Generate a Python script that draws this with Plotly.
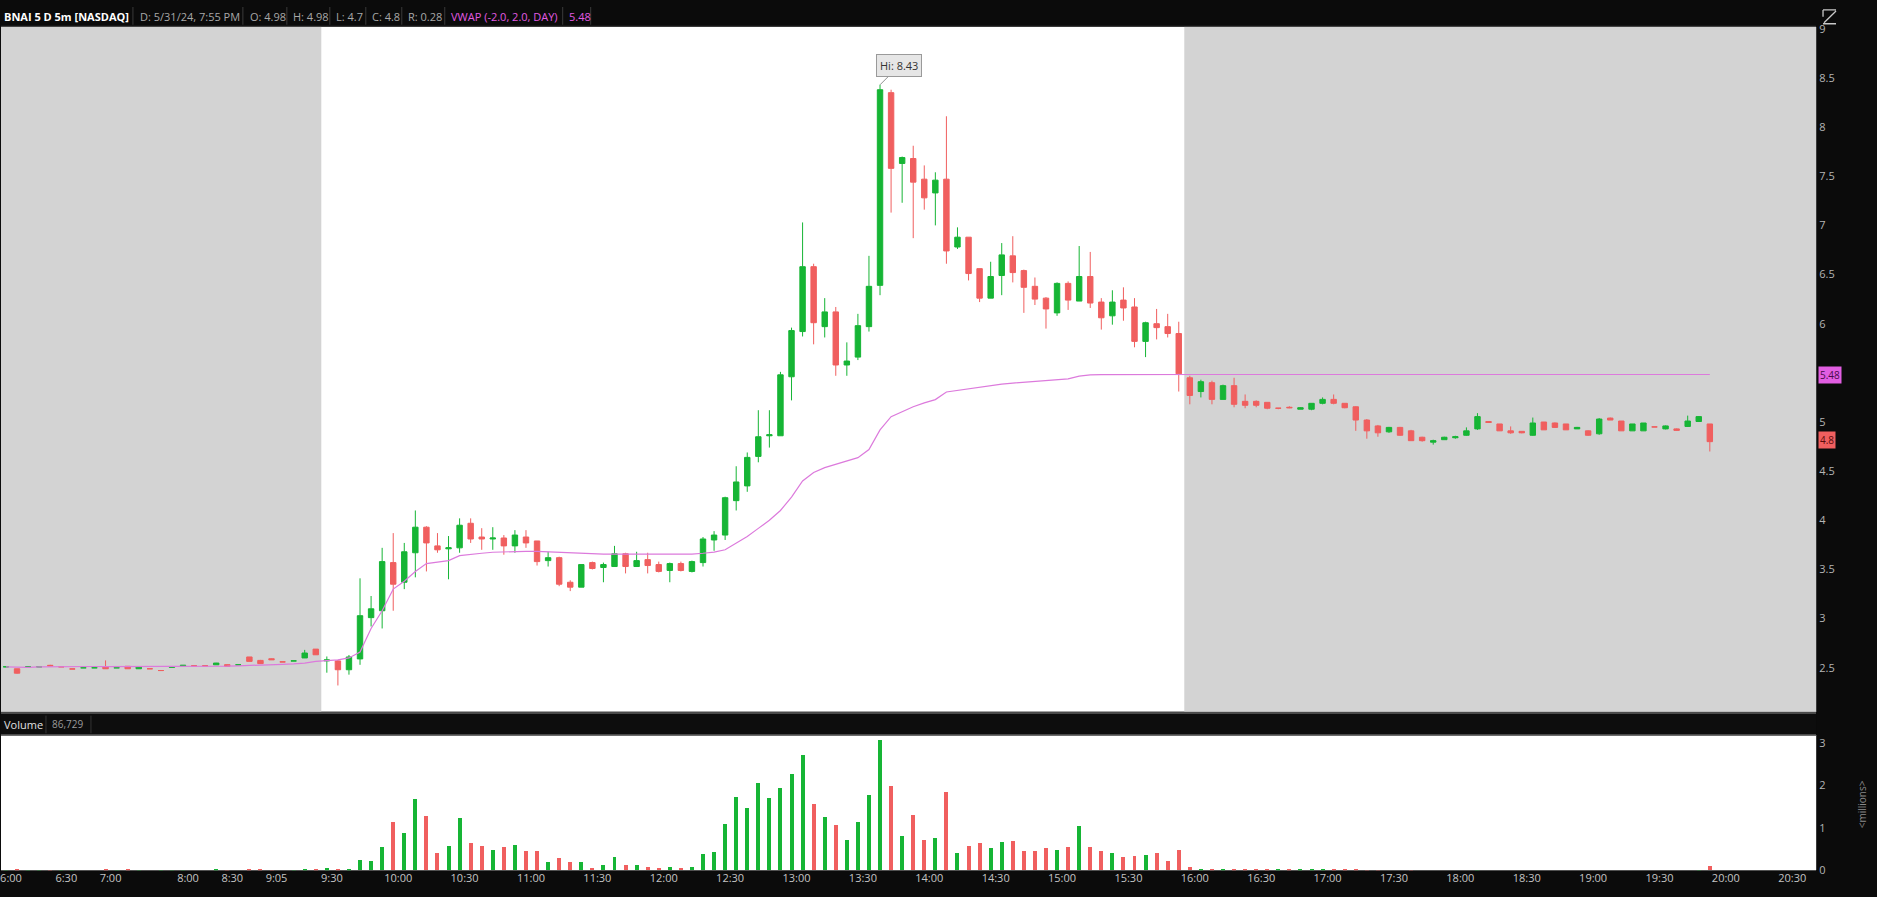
import plotly.graph_objects as go

# ---------------- DATA ----------------
pre_times = ["6:00", "6:05", "6:10", "6:20", "6:25", "6:30", "6:35", "6:45", "6:50",
             "7:00", "7:10", "7:20", "7:30", "7:35", "7:45", "7:55", "8:00", "8:05",
             "8:15", "8:20", "8:30", "8:35", "8:45", "8:55", "9:05", "9:10", "9:15",
             "9:20", "9:25"]


def session_times(h0, m0, n):
    out, t = [], h0 * 60 + m0
    for _ in range(n):
        out.append(f"{t // 60}:{t % 60:02d}")
        t += 5
    return out


reg_times = session_times(9, 30, 78)
ah_times = session_times(16, 0, 48)
future_slots = session_times(20, 0, 10)

# premarket OHLC
pre_o = [2.51, 2.49, 2.51, 2.51, 2.525, 2.51, 2.488, 2.50, 2.50, 2.508, 2.50, 2.515, 2.49, 2.49, 2.472,
         2.505, 2.52, 2.52, 2.52, 2.53, 2.532, 2.53, 2.61, 2.575, 2.592, 2.56, 2.57, 2.60, 2.69]
pre_h = [2.51, 2.49, 2.51, 2.51, 2.53, 2.51, 2.488, 2.50, 2.50, 2.575, 2.50, 2.515, 2.508, 2.49, 2.472,
         2.51, 2.525, 2.52, 2.52, 2.55, 2.535, 2.53, 2.61, 2.58, 2.595, 2.56, 2.57, 2.682, 2.69]
pre_l = [2.51, 2.44, 2.51, 2.51, 2.52, 2.51, 2.488, 2.50, 2.50, 2.49, 2.50, 2.49, 2.488, 2.49, 2.472,
         2.505, 2.52, 2.52, 2.52, 2.53, 2.515, 2.53, 2.565, 2.54, 2.58, 2.56, 2.57, 2.60, 2.63]
pre_c = [2.51, 2.445, 2.51, 2.51, 2.52, 2.51, 2.488, 2.50, 2.50, 2.49, 2.50, 2.49, 2.508, 2.49, 2.472,
         2.51, 2.525, 2.52, 2.52, 2.548, 2.515, 2.53, 2.565, 2.542, 2.582, 2.56, 2.57, 2.65, 2.632]

# regular session OHLC (9:30 - 15:55)
reg_o = [2.57, 2.57, 2.48, 2.59, 3.01, 3.08, 3.57, 3.37, 3.67, 3.93, 3.74, 3.71, 3.72, 3.97, 3.83,
         3.81, 3.82, 3.74, 3.83, 3.79, 3.59, 3.62, 3.37, 3.32, 3.57, 3.52, 3.53, 3.66, 3.53, 3.60,
         3.55, 3.49, 3.56, 3.48, 3.57, 3.80, 3.85, 4.20, 4.35, 4.65, 4.86, 4.86, 5.46, 5.92, 6.58,
         5.97, 6.12, 5.58, 5.66, 5.97, 6.39, 8.35, 7.63, 7.68, 7.47, 7.33, 7.47, 6.78, 6.88, 6.56,
         6.26, 6.49, 6.69, 6.54, 6.38, 6.26, 6.11, 6.41, 6.23, 6.48, 6.22, 6.08, 6.24, 6.17, 5.82,
         6.00, 5.97, 5.90]
reg_h = [2.615, 2.58, 2.63, 3.41, 3.23, 3.72, 3.87, 3.77, 4.10, 3.94, 3.87, 3.84, 4.02, 4.02, 3.92,
         3.93, 3.85, 3.90, 3.90, 3.79, 3.68, 3.63, 3.39, 3.55, 3.58, 3.57, 3.74, 3.67, 3.68, 3.67,
         3.58, 3.57, 3.58, 3.59, 3.83, 3.89, 4.24, 4.55, 4.69, 5.12, 5.12, 5.51, 5.96, 7.03, 6.61,
         6.26, 6.17, 5.81, 6.10, 6.69, 8.43, 8.38, 7.70, 7.81, 7.61, 7.54, 8.11, 6.98, 6.88, 6.56,
         6.63, 6.82, 6.89, 6.55, 6.47, 6.27, 6.42, 6.43, 6.79, 6.73, 6.26, 6.34, 6.37, 6.26, 6.02,
         6.15, 6.10, 6.02]
reg_l = [2.45, 2.32, 2.43, 2.53, 2.92, 2.90, 3.08, 3.30, 3.42, 3.48, 3.67, 3.40, 3.67, 3.77, 3.70,
         3.70, 3.65, 3.67, 3.72, 3.54, 3.53, 3.33, 3.28, 3.32, 3.50, 3.37, 3.53, 3.46, 3.53, 3.46,
         3.47, 3.37, 3.48, 3.47, 3.53, 3.69, 3.80, 4.10, 4.29, 4.59, 4.74, 4.86, 5.22, 5.87, 5.79,
         5.86, 5.47, 5.47, 5.63, 5.92, 6.29, 7.13, 7.23, 6.87, 7.16, 7.00, 6.61, 6.76, 6.44, 6.22,
         6.26, 6.29, 6.42, 6.11, 6.19, 5.95, 6.08, 6.14, 6.23, 6.16, 5.94, 5.99, 6.03, 5.76, 5.66,
         5.84, 5.86, 5.31]
reg_c = [2.58, 2.48, 2.61, 3.03, 3.10, 3.58, 3.35, 3.68, 3.93, 3.77, 3.70, 3.72, 3.95, 3.81, 3.81,
         3.82, 3.74, 3.85, 3.77, 3.58, 3.62, 3.35, 3.32, 3.55, 3.51, 3.55, 3.66, 3.53, 3.59, 3.54,
         3.48, 3.56, 3.49, 3.58, 3.81, 3.85, 4.23, 4.39, 4.64, 4.85, 4.87, 5.48, 5.93, 6.58, 6.01,
         6.12, 5.58, 5.62, 5.98, 6.38, 8.38, 7.58, 7.69, 7.44, 7.28, 7.46, 6.74, 6.88, 6.51, 6.26,
         6.48, 6.70, 6.52, 6.37, 6.25, 6.15, 6.41, 6.24, 6.48, 6.21, 6.06, 6.22, 6.16, 5.82, 6.01,
         5.96, 5.90, 5.49]

# after-hours OHLC (16:00 - 19:55)
ah_o = [5.45, 5.31, 5.40, 5.23, 5.37, 5.21, 5.21, 5.20, 5.14, 5.15, 5.13, 5.13, 5.19, 5.23, 5.19,
        5.155, 5.02, 4.96, 4.90, 4.945, 4.91, 4.845, 4.795, 4.82, 4.84, 4.865, 4.93, 5.005, 4.98,
        4.91, 4.905, 4.865, 5.00, 4.99, 4.98, 4.93, 4.91, 4.88, 5.04, 5.01, 4.91, 4.91, 4.95, 4.93,
        4.93, 4.955, 5.005, 4.98]
ah_h = [5.47, 5.43, 5.42, 5.38, 5.45, 5.28, 5.22, 5.20, 5.14, 5.16, 5.15, 5.19, 5.25, 5.28, 5.19,
        5.16, 5.03, 4.97, 4.95, 4.95, 4.92, 4.85, 4.82, 4.85, 4.86, 4.945, 5.09, 5.01, 4.98,
        4.955, 4.905, 5.045, 5.00, 4.995, 4.98, 4.95, 4.915, 5.04, 5.045, 5.01, 4.98, 4.99, 4.95, 4.965,
        4.935, 5.065, 5.06, 4.98]
ah_l = [5.18, 5.25, 5.18, 5.23, 5.15, 5.14, 5.15, 5.13, 5.13, 5.14, 5.13, 5.12, 5.18, 5.18, 5.14,
        4.91, 4.83, 4.85, 4.89, 4.86, 4.81, 4.80, 4.77, 4.82, 4.83, 4.86, 4.92, 4.99, 4.91,
        4.88, 4.885, 4.86, 4.92, 4.94, 4.92, 4.93, 4.86, 4.87, 5.02, 4.91, 4.91, 4.91, 4.95, 4.925,
        4.91, 4.95, 5.00, 4.70]
ah_c = [5.27, 5.41, 5.23, 5.37, 5.18, 5.17, 5.17, 5.14, 5.14, 5.145, 5.145, 5.19, 5.23, 5.19, 5.145,
        5.02, 4.91, 4.89, 4.945, 4.865, 4.81, 4.81, 4.81, 4.845, 4.85, 4.91, 5.055, 4.995, 4.91,
        4.89, 4.89, 4.99, 4.92, 4.945, 4.92, 4.945, 4.865, 5.03, 5.02, 4.91, 4.98, 4.99, 4.95, 4.96,
        4.915, 5.01, 5.055, 4.80]

# volume, millions of shares
pre_v = [0.0004, 0.0006, 0.0003, 0.0003, 0.0004, 0.0003, 0.0004, 0.0002, 0.0002, 0.0008, 0.0003,
         0.0005, 0.0004, 0.0002, 0.0003, 0.0003, 0.0004, 0.0002, 0.0002, 0.0005, 0.0004, 0.0002,
         0.0007, 0.0006, 0.0004, 0.0002, 0.0003, 0.0009, 0.0010]
reg_v = [0.04, 0.02, 0.02, 0.23, 0.21, 0.54, 1.14, 0.88, 1.67, 1.27, 0.39, 0.57, 1.22, 0.64, 0.57,
         0.47, 0.54, 0.60, 0.45, 0.45, 0.18, 0.29, 0.19, 0.18, 0.05, 0.12, 0.31, 0.13, 0.13, 0.08,
         0.05, 0.08, 0.05, 0.08, 0.37, 0.43, 1.09, 1.72, 1.47, 2.05, 1.69, 1.94, 2.25, 2.71, 1.55,
         1.24, 1.06, 0.70, 1.12, 1.76, 3.06, 1.99, 0.81, 1.29, 0.71, 0.76, 1.84, 0.39, 0.57, 0.64,
         0.53, 0.66, 0.68, 0.44, 0.44, 0.53, 0.47, 0.54, 1.03, 0.54, 0.44, 0.41, 0.31, 0.33, 0.36,
         0.39, 0.22, 0.48]
ah_v = [0.06, 0.02, 0.015, 0.02, 0.015, 0.01, 0.02, 0.01, 0.005, 0.005, 0.01, 0.015, 0.01, 0.012,
        0.0008, 0.0006, 0.0004, 0.0003, 0.0002, 0.0002, 0.0003, 0.0002, 0.0002, 0.0002, 0.0002,
        0.0002, 0.0003, 0.0002, 0.0002, 0.0002, 0.0002, 0.0002, 0.0002, 0.0002, 0.0002, 0.0002,
        0.0002, 0.0002, 0.0002, 0.0002, 0.0002, 0.0002, 0.0001, 0.0002, 0.0002, 0.0002, 0.0003,
        0.086729]

# VWAP study values
pre_vwap = [2.510, 2.505, 2.505, 2.510, 2.512, 2.512, 2.513, 2.512, 2.513, 2.512, 2.512, 2.512,
            2.512, 2.512, 2.512, 2.512, 2.513, 2.513, 2.514, 2.515, 2.517, 2.520, 2.522, 2.525,
            2.530, 2.535, 2.540, 2.548, 2.565]
reg_vwap = [2.575, 2.58, 2.60, 2.66, 2.90, 3.08, 3.30, 3.38, 3.48, 3.56, 3.575, 3.59, 3.64, 3.655,
            3.665, 3.675, 3.68, 3.685, 3.685, 3.685, 3.68, 3.675, 3.665, 3.66, 3.658, 3.657, 3.657,
            3.657, 3.656, 3.656, 3.655, 3.655, 3.655, 3.657, 3.665, 3.677, 3.70, 3.768, 3.835, 3.918,
            4.00, 4.10, 4.236, 4.40, 4.486, 4.536, 4.57, 4.597, 4.637, 4.72, 4.92, 5.054, 5.105,
            5.155, 5.195, 5.228, 5.305, 5.322, 5.338, 5.355, 5.372, 5.385, 5.396, 5.406, 5.416,
            5.423, 5.429, 5.439, 5.466, 5.479, 5.481, 5.482, 5.483, 5.483, 5.483, 5.483, 5.483, 5.483]
ah_vwap = [5.483, 5.483, 5.483, 5.483, 5.483, 5.483, 5.483, 5.483, 5.483, 5.483, 5.483, 5.483,
           5.483, 5.483, 5.483, 5.483, 5.483, 5.483, 5.483, 5.483, 5.483, 5.483, 5.483, 5.483,
           5.483, 5.483, 5.483, 5.483, 5.483, 5.483, 5.483, 5.483, 5.483, 5.483, 5.483, 5.483,
           5.483, 5.483, 5.483, 5.483, 5.483, 5.483, 5.483, 5.483, 5.483, 5.483, 5.483, 5.483]

tick_labels = ["6:00", "6:30", "7:00", "8:00", "8:30", "9:05", "9:30", "10:00", "10:30", "11:00",
               "11:30", "12:00", "12:30", "13:00", "13:30", "14:00", "14:30", "15:00", "15:30",
               "16:00", "16:30", "17:00", "17:30", "18:00", "18:30", "19:00", "19:30", "20:00", "20:30"]
price_ticks = [2.5, 3, 3.5, 4, 4.5, 5, 6, 6.5, 7, 7.5, 8, 8.5, 9]
vol_ticks = [0, 1, 2, 3]

# ---------------- BUILD ----------------
W, H = 1877, 897
GREEN, RED = "#16b535", "#f05f5f"
times = pre_times + reg_times + ah_times
slots = times + future_slots
x = list(range(len(times)))
o = pre_o + reg_o + ah_o
h = pre_h + reg_h + ah_h
l = pre_l + reg_l + ah_l
c = pre_c + reg_c + ah_c
v = pre_v + reg_v + ah_v
vw = pre_vwap + reg_vwap + ah_vwap
vcol = [GREEN if cc >= oo else RED for oo, cc in zip(o, c)]

XR = [-0.45, 163.6]
xdom = [0, 1816 / W]


def py(p):
    return 1 - p / H


def px(p):
    return p / W


fig = go.Figure()
fig.add_trace(go.Candlestick(
    x=x, open=o, high=h, low=l, close=c, xaxis="x", yaxis="y",
    increasing=dict(line=dict(color=GREEN, width=1), fillcolor=GREEN),
    decreasing=dict(line=dict(color=RED, width=1), fillcolor=RED),
    whiskerwidth=0, hoverinfo="skip", showlegend=False))
fig.add_trace(go.Scatter(x=x, y=vw, mode="lines", line=dict(color="#dc7adc", width=1.2),
                         xaxis="x", yaxis="y", hoverinfo="skip", showlegend=False))
fig.add_trace(go.Bar(x=x, y=v, marker=dict(color=vcol, line=dict(width=0)), width=0.36,
                     xaxis="x2", yaxis="y2", hoverinfo="skip", showlegend=False))

i930 = times.index("9:30")
i1600 = times.index("16:00")
shapes = [
    dict(type="rect", xref="x", yref="y domain", x0=XR[0], x1=i930 - 0.5, y0=0, y1=1,
         fillcolor="#d3d3d3", line=dict(width=0), layer="below"),
    dict(type="rect", xref="x", yref="y domain", x0=i1600 - 0.5, x1=XR[1], y0=0, y1=1,
         fillcolor="#d3d3d3", line=dict(width=0), layer="below"),
    # volume header strip
    dict(type="rect", xref="paper", yref="paper", x0=0, x1=px(1816), y0=py(740), y1=py(716.5),
         fillcolor="#0d0d0d", line=dict(width=0)),
    dict(type="line", xref="paper", yref="paper", x0=0, x1=px(1816), y0=py(717.5), y1=py(717.5),
         line=dict(color="#4a4a4a", width=2)),
    dict(type="line", xref="paper", yref="paper", x0=0, x1=px(1816), y0=py(739.5), y1=py(739.5),
         line=dict(color="#4a4a4a", width=1.5)),
    dict(type="line", xref="paper", yref="paper", x0=px(45), x1=px(45), y0=py(738), y1=py(720),
         line=dict(color="#333", width=1)),
    dict(type="line", xref="paper", yref="paper", x0=px(90), x1=px(90), y0=py(738), y1=py(720),
         line=dict(color="#333", width=1)),
    # header bottom line
    dict(type="line", xref="paper", yref="paper", x0=0, x1=px(1816), y0=py(20.5), y1=py(20.5),
         line=dict(color="#2e2e2e", width=1)),
    # top-right icon
    dict(type="path", xref="paper", yref="paper",
         path=f"M{px(1823)},{py(4)} L{px(1836)},{py(4)} M{px(1836)},{py(5)} L{px(1824)},{py(17)} "
              f"M{px(1823)},{py(18)} L{px(1836)},{py(18)} M{px(1823)},{py(4)} L{px(1823)},{py(11)}",
         line=dict(color="#c8c8c8", width=1.3)),
]
for sx in [132, 242, 286, 329, 365, 401, 444, 562, 590]:
    shapes.append(dict(type="line", xref="paper", yref="paper", x0=px(sx), x1=px(sx),
                       y0=py(19), y1=py(1), line=dict(color="#3a3a3a", width=1)))

HF = "Open Sans, Arial, sans-serif"
ann = []
header = [("<b>BNAI 5 D 5m [NASDAQ]</b>", 1, "#ffffff"),
          ("D: 5/31/24, 7:55 PM", 137, "#a8a8a8"),
          ("O: 4.98", 247, "#a8a8a8"), ("H: 4.98", 290, "#a8a8a8"),
          ("L: 4.7", 333, "#a8a8a8"), ("C: 4.8", 369, "#a8a8a8"),
          ("R: 0.28", 405, "#a8a8a8"),
          ("VWAP (-2.0, 2.0, DAY)", 448, "#e25ae2"),
          (f"{vw[-1]:.2f}", 566, "#e25ae2")]
for txt, hx, col in header:
    ann.append(dict(text=txt, xref="paper", yref="paper", x=px(hx), y=py(10.5), xanchor="left",
                    yanchor="middle", showarrow=False, font=dict(family=HF, size=11, color=col)))
ann.append(dict(text="Volume", xref="paper", yref="paper", x=px(1), y=py(729), xanchor="left",
                yanchor="middle", showarrow=False, font=dict(family=HF, size=11, color="#e0e0e0")))
ann.append(dict(text=f"{round(v[-1] * 1e6):,}", xref="paper", yref="paper", x=px(49), y=py(729),
                xanchor="left", yanchor="middle", showarrow=False,
                font=dict(family=HF, size=10, color="#9a9a9a")))
ann.append(dict(text="&lt;millions&gt;", xref="paper", yref="paper", x=px(1862), y=py(810),
                xanchor="center", yanchor="middle", textangle=-90, showarrow=False,
                font=dict(family=HF, size=10, color="#8a8a8a")))
# price bubbles on axis
ann.append(dict(text=f"{vw[-1]:.2f}", xref="paper", yref="y", x=px(1818), y=vw[-1], xanchor="left",
                yanchor="middle", showarrow=False, bgcolor="#e25ee2", borderpad=1,
                font=dict(family=HF, size=10, color="#4a0a4a")))
ann.append(dict(text=f"{c[-1]:g}", xref="paper", yref="y", x=px(1818), y=c[-1] + 0.02,
                xanchor="left", yanchor="middle", showarrow=False, bgcolor="#f05f5f", borderpad=1,
                font=dict(family=HF, size=10, color="#5a0c0c")))
# Hi callout
ihi = h.index(max(h))
ann.append(dict(text=f"Hi: {max(h):.2f}", xref="x", yref="y", x=x[ihi], y=max(h), ax=19, ay=-19,
                showarrow=True, arrowhead=0, arrowwidth=1, arrowcolor="#8f8f8f", bgcolor="#e6e6e6",
                bordercolor="#9a9a9a", borderwidth=1, borderpad=3,
                font=dict(family=HF, size=11, color="#333333")))

fig.update_layout(
    width=W, height=H, margin=dict(l=0, r=0, t=0, b=0),
    paper_bgcolor="#0b0b0b", plot_bgcolor="#ffffff",
    showlegend=False, bargap=0, hovermode=False,
    xaxis=dict(domain=xdom, range=XR, anchor="y", showticklabels=False, showgrid=False,
               zeroline=False, rangeslider=dict(visible=False), fixedrange=True),
    xaxis2=dict(domain=xdom, range=XR, anchor="y2", matches="x", showgrid=False, zeroline=False,
                tickmode="array", tickvals=[slots.index(t) for t in tick_labels],
                ticktext=tick_labels, ticks="", ticklabelshift=5, ticklabeloverflow="allow",
                tickfont=dict(family=HF, size=11, color="#c4c4c4"), fixedrange=True),
    yaxis=dict(domain=[py(716), py(21)], range=[2.054, 9.021], anchor="x", side="right",
               showgrid=False, zeroline=False, tickmode="array", tickvals=price_ticks,
               ticktext=[f"{t:g}" for t in price_ticks], ticks="",
               tickfont=dict(family=HF, size=11, color="#b4b4b4"),
               showline=True, linecolor="#3a3a3a", linewidth=1, fixedrange=True),
    yaxis2=dict(domain=[py(877), py(740)], range=[0, 3.18], anchor="x2", side="right",
                showgrid=False, zeroline=False, tickmode="array", tickvals=vol_ticks,
                ticktext=[str(t) for t in vol_ticks], ticks="",
                tickfont=dict(family=HF, size=11, color="#b4b4b4"),
                showline=True, linecolor="#3a3a3a", linewidth=1, fixedrange=True),
    shapes=shapes, annotations=ann,
)

fig.write_html(
    "out.html", config=dict(displayModeBar=False),
    post_script=("document.documentElement.style.margin='0';document.body.style.margin='0';"
                 "document.body.style.padding='0';document.body.style.overflow='hidden';"
                 "document.documentElement.style.overflow='hidden';"
                 "document.body.style.background='#0b0b0b';"
                 "var gd=document.getElementById('{plot_id}');"
                 "gd.style.position='fixed';gd.style.left='0px';gd.style.top='0px';"))
